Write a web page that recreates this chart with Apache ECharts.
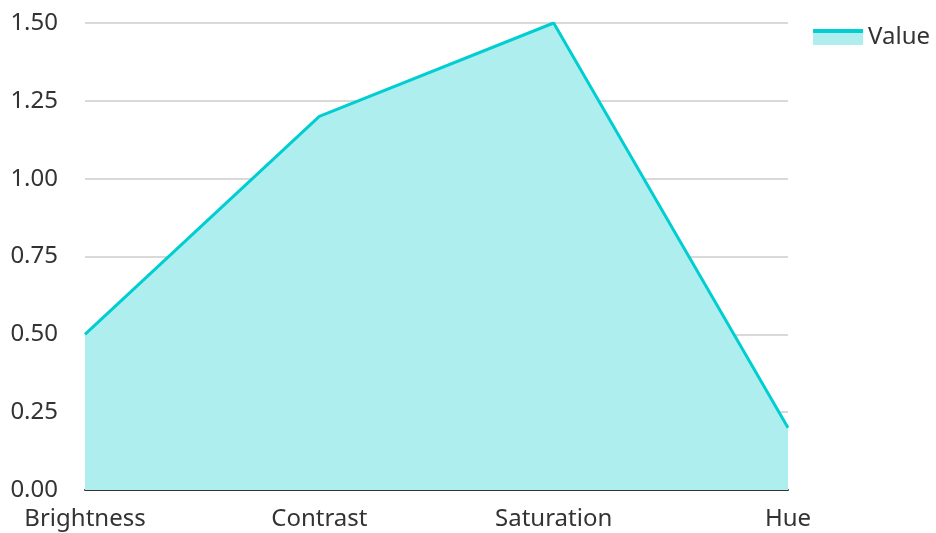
<!DOCTYPE html>
<html><head><meta charset="utf-8">
<script src="https://cdn.jsdelivr.net/npm/echarts@6/dist/echarts.min.js"></script>
<style>html,body{margin:0;padding:0;background:#fff}#c{width:936px;height:533px}</style>
</head><body><div id="c"></div>
<script>
const categories = ['Brightness', 'Contrast', 'Saturation', 'Hue'];
const values = [0.5, 1.2, 1.5, 0.2];
const seriesName = 'Value';
const chart = echarts.init(document.getElementById('c'));
const font = 'Noto Sans';
chart.setOption({
  animation: false,
  grid: {left: 85, right: 148, top: 23, bottom: 43, containLabel: false},
  legend: {
    data: [seriesName], right: 1, top: 20, itemWidth: 50, itemHeight: 16, itemGap: 9,
    icon: 'rect',
    itemStyle: {color: new echarts.graphic.LinearGradient(0, 0, 0, 1, [
      {offset: 0, color: '#00CED1'}, {offset: 0.25, color: '#00CED1'},
      {offset: 0.25, color: '#AFEEEE'}, {offset: 1, color: '#AFEEEE'}])},
    textStyle: {fontFamily: font, fontSize: 24, color: '#333'}
  },
  xAxis: {
    type: 'category', data: categories, boundaryGap: false,
    axisLine: {lineStyle: {color: '#333', width: 2}}, axisTick: {show: false},
    axisLabel: {fontFamily: font, fontSize: 24, color: '#333', margin: 17, interval: 0}
  },
  yAxis: {
    type: 'value', min: 0, max: 1.5, interval: 0.25,
    axisLine: {show: false}, axisTick: {show: false},
    splitLine: {lineStyle: {color: '#ccc', width: 1.5}},
    axisLabel: {fontFamily: font, fontSize: 24, color: '#333', margin: 27, formatter: v => v.toFixed(2)}
  },
  series: [{
    name: seriesName, type: 'line', data: values, showSymbol: false, symbol: 'none',
    lineStyle: {color: '#00CED1', width: 3},
    itemStyle: {color: '#00CED1'},
    areaStyle: {color: '#AFEEEE', opacity: 1}
  }]
});
</script></body></html>
